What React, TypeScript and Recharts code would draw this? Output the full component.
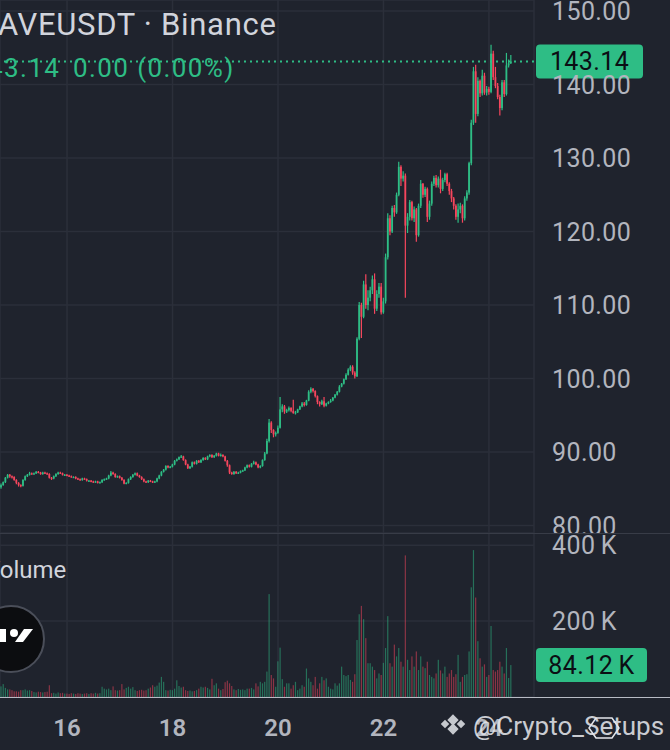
import React from 'react';
import { ComposedChart, Bar, XAxis, YAxis, CartesianGrid, ReferenceLine } from 'recharts';

const UP = '#2ebd85';
const DOWN = '#f6465d';
const BG = '#1f232d';
const GRID = '#2b2f3a';
const AXIS_TEXT = '#b2b5be';
const FONT = 'Roboto, sans-serif';

// hourly candles, first one opens on the 14th at 18:00
const FIRST_DAY = 14;
const FIRST_HOUR = 18;
const EMPTY_SLOTS = 10;

const firstOpen = 85.2;
const closes = [
  85.5, 85.9, 86.5, 86.9, 86.7, 86.6, 86.2, 85.8, 85.5, 85.4,
  86.2, 86.7, 86.9, 87.1, 87.0, 87.1, 87.3, 87.2, 87.0, 87.2,
  87.1, 87.0, 86.5, 86.4, 86.7, 87.0, 87.2, 87.1, 86.9, 86.9,
  86.8, 86.7, 86.6, 86.6, 86.4, 86.3, 86.2, 86.4, 86.3, 86.1,
  86.1, 86.0, 85.9, 86.0, 85.8, 85.9, 86.2, 86.3, 86.4, 86.8,
  87.2, 87.0, 86.6, 86.7, 86.5, 86.2, 85.7, 85.8, 86.3, 86.6,
  86.9, 87.1, 86.8, 86.6, 86.3, 86.0, 85.9, 86.1, 86.0, 85.9,
  86.0, 86.4, 86.8, 87.3, 87.6, 88.1, 87.9, 88.0, 88.3, 88.8,
  89.0, 89.3, 89.4, 88.9, 88.3, 87.8, 88.0, 88.6, 88.4, 88.8,
  88.6, 88.9, 89.2, 89.0, 89.4, 89.6, 89.3, 89.5, 89.8, 89.5,
  89.6, 89.4, 88.8, 88.2, 87.2, 87.0, 87.3, 87.1, 87.2, 87.4,
  87.5, 87.9, 88.2, 88.0, 88.4, 88.6, 88.3, 87.9, 88.1, 88.9,
  89.8, 91.5, 94.0, 93.0, 92.4, 92.6, 93.3, 95.8, 96.2, 95.5,
  95.7, 96.0, 95.6, 95.3, 95.4, 95.8, 96.2, 96.6, 96.4, 97.0,
  98.2, 98.6, 98.3, 97.6, 96.8, 96.5, 96.9, 96.3, 96.6, 96.8,
  97.0, 97.4, 97.8, 98.2, 98.9, 99.3, 99.9, 100.5, 101.2, 101.6,
  100.8, 100.3, 105.4, 110.0, 108.4, 112.8, 110.0, 111.0, 112.0, 113.5,
  109.5, 111.5, 112.5, 109.0, 110.5, 116.5, 121.8, 120.0, 123.2, 122.6,
  125.0, 128.8, 127.2, 127.6, 120.8, 122.0, 124.0, 121.8, 123.0, 119.5,
  123.5, 126.5, 125.0, 125.8, 122.0, 123.8, 126.5, 127.3, 126.3, 127.2,
  125.8, 127.0, 127.8, 126.5, 125.5, 124.5, 123.5, 122.0, 123.0, 123.5,
  121.8, 124.5, 125.3, 129.3, 134.8, 141.8, 136.0, 140.5, 138.8, 141.2,
  138.9, 139.4, 139.0, 144.2, 141.0, 139.8, 138.3, 136.8, 140.3, 138.7,
  142.6, 142.9, 143.14,
];
const highs = [
  85.7, 86.0, 86.6, 87.0, 87.0, 86.8, 86.7, 86.3, 85.9, 85.6,
  86.3, 86.8, 87.0, 87.3, 87.2, 87.2, 87.4, 87.4, 87.3, 87.3,
  87.3, 87.2, 87.1, 86.6, 86.8, 87.1, 87.3, 87.3, 87.2, 87.0,
  87.0, 86.9, 86.8, 86.7, 86.7, 86.5, 86.4, 86.5, 86.5, 86.4,
  86.2, 86.2, 86.1, 86.1, 86.1, 86.0, 86.3, 86.4, 86.5, 86.9,
  87.4, 87.3, 87.1, 86.8, 86.8, 86.6, 86.3, 85.9, 86.4, 86.7,
  87.0, 87.2, 87.2, 86.9, 86.7, 86.4, 86.1, 86.2, 86.2, 86.1,
  86.1, 86.5, 86.9, 87.4, 87.7, 88.2, 88.2, 88.1, 88.4, 88.9,
  89.1, 89.4, 89.6, 89.5, 89.0, 88.4, 88.1, 88.7, 88.7, 88.9,
  88.9, 89.0, 89.3, 89.3, 89.5, 89.7, 89.7, 89.6, 89.9, 89.9,
  89.8, 89.7, 89.5, 88.9, 88.3, 87.3, 87.4, 87.4, 87.3, 87.5,
  87.6, 88.0, 88.3, 88.3, 88.5, 88.8, 88.7, 88.4, 88.2, 89.0,
  90.0, 91.8, 94.5, 94.2, 93.1, 92.8, 93.6, 97.5, 96.5, 96.4,
  95.9, 96.2, 96.1, 97.1, 95.6, 95.9, 96.3, 96.8, 96.8, 97.1,
  98.4, 98.8, 98.7, 98.4, 97.7, 96.9, 97.1, 97.5, 96.7, 96.9,
  97.2, 97.5, 97.9, 98.3, 99.1, 99.4, 100.0, 100.7, 101.4, 101.8,
  101.8, 101.0, 105.6, 110.4, 110.3, 113.3, 114.2, 112.0, 112.5, 114.0,
  114.3, 112.0, 113.0, 113.0, 111.0, 117.0, 122.5, 122.2, 123.5, 123.6,
  125.3, 129.5, 129.0, 128.2, 127.9, 122.5, 124.3, 124.2, 123.4, 123.2,
  123.8, 127.0, 126.6, 126.1, 126.0, 124.2, 126.8, 127.6, 127.7, 127.5,
  128.4, 127.3, 128.0, 128.0, 126.7, 125.8, 124.7, 123.7, 123.8, 123.9,
  123.7, 124.8, 125.6, 129.5, 135.2, 142.4, 142.7, 141.0, 140.7, 142.0,
  141.6, 139.8, 139.7, 145.4, 144.6, 142.4, 140.2, 138.6, 140.6, 140.6,
  144.3, 143.4, 144.0,
];
const lows = [
  85.0, 85.4, 85.8, 86.4, 86.5, 86.4, 86.1, 85.6, 85.3, 85.2,
  85.3, 86.1, 86.6, 86.8, 86.9, 86.9, 87.0, 87.1, 86.9, 86.9,
  87.0, 86.9, 86.4, 86.2, 86.3, 86.6, 86.9, 87.0, 86.8, 86.8,
  86.7, 86.6, 86.5, 86.5, 86.3, 86.2, 86.1, 86.1, 86.2, 86.0,
  86.0, 85.9, 85.8, 85.8, 85.7, 85.7, 85.8, 86.1, 86.2, 86.3,
  86.7, 86.9, 86.5, 86.5, 86.4, 86.1, 85.6, 85.6, 85.7, 86.2,
  86.5, 86.8, 86.7, 86.5, 86.2, 85.9, 85.8, 85.8, 85.9, 85.8,
  85.8, 85.9, 86.3, 86.7, 87.2, 87.5, 87.8, 87.8, 87.9, 88.2,
  88.7, 88.9, 89.2, 88.8, 88.2, 87.7, 87.7, 87.9, 88.3, 88.3,
  88.5, 88.5, 88.8, 88.9, 88.9, 89.3, 89.2, 89.2, 89.4, 89.4,
  89.4, 89.3, 88.7, 88.0, 87.0, 86.9, 86.9, 87.0, 87.0, 87.1,
  87.3, 87.4, 87.8, 87.9, 87.9, 88.3, 88.2, 87.8, 87.8, 88.0,
  88.8, 89.7, 91.3, 92.6, 92.0, 92.1, 92.5, 93.2, 95.4, 95.2,
  95.3, 95.5, 95.4, 95.2, 95.1, 95.3, 95.7, 96.1, 96.2, 96.3,
  96.9, 98.0, 98.1, 97.4, 96.5, 96.2, 96.4, 96.1, 96.2, 96.5,
  96.7, 96.9, 97.3, 97.7, 98.1, 98.8, 99.2, 99.8, 100.4, 101.0,
  100.5, 100.0, 100.2, 105.2, 105.5, 108.2, 109.5, 109.3, 110.5, 111.5,
  108.8, 109.2, 111.0, 108.7, 108.8, 110.2, 116.2, 119.5, 119.8, 122.0,
  122.4, 124.8, 126.2, 126.8, 111.0, 119.8, 121.5, 121.5, 121.3, 118.6,
  119.3, 123.2, 124.6, 124.7, 121.3, 121.6, 123.5, 126.2, 126.0, 126.0,
  125.2, 125.5, 126.7, 126.2, 125.0, 124.0, 123.0, 121.6, 121.2, 122.5,
  121.2, 121.5, 124.2, 125.0, 129.0, 134.5, 134.8, 135.7, 138.3, 138.5,
  138.6, 138.5, 138.6, 138.8, 140.6, 139.5, 138.0, 135.8, 136.5, 138.3,
  138.5, 142.3, 142.8,
];
// volume, thousands of AAVE
const volumes = [
  28, 34, 24, 20, 20, 18, 15, 15, 14, 18,
  18, 20, 17, 18, 16, 13, 12, 14, 13, 12,
  13, 14, 31, 10, 11, 9, 12, 10, 11, 9,
  9, 8, 10, 9, 8, 10, 9, 8, 9, 10,
  8, 10, 9, 11, 9, 10, 27, 22, 20, 22,
  18, 28, 18, 17, 18, 34, 20, 24, 27, 22,
  26, 18, 16, 18, 19, 17, 18, 22, 25, 31,
  27, 30, 38, 53, 40, 18, 17, 19, 18, 22,
  44, 29, 25, 27, 18, 16, 17, 15, 16, 18,
  22, 27, 25, 27, 24, 20, 48, 31, 36, 22,
  18, 21, 39, 43, 36, 29, 20, 18, 21, 19,
  20, 18, 22, 22, 24, 20, 36, 28, 40, 36,
  40, 67, 271, 58, 49, 27, 94, 130, 47, 27,
  36, 36, 22, 31, 40, 18, 22, 31, 27, 75,
  49, 40, 31, 53, 22, 36, 53, 44, 49, 27,
  22, 20, 36, 30, 36, 80, 58, 55, 58, 45,
  40, 60, 150, 218, 240, 205, 155, 89, 89, 80,
  71, 49, 62, 58, 90, 129, 213, 89, 80, 138,
  107, 129, 93, 80, 373, 98, 71, 107, 80, 120,
  71, 107, 80, 76, 93, 58, 53, 49, 62, 98,
  70, 62, 80, 53, 62, 71, 53, 60, 111, 40,
  53, 58, 60, 120, 289, 387, 262, 147, 102, 80,
  86, 53, 58, 187, 71, 67, 71, 93, 80, 62,
  129, 50, 84.12,
];

const priceTicks = [80, 90, 100, 110, 120, 130, 140, 150];
const volumeTicks = [200, 400];
const dayTicks = [16, 18, 20, 22, 24];
const lastPrice = 143.14;
const lastVolume = 84.12;

const rows = Array.from({ length: closes.length + EMPTY_SLOTS }, (_, i) => {
  const hour = FIRST_HOUR + i;
  const day = FIRST_DAY + Math.floor(hour / 24);
  const slot = hour % 24 === 0 ? `d${day}` : `s${i}`;
  if (i >= closes.length) return { slot };
  const open = i === 0 ? firstOpen : closes[i - 1];
  const close = closes[i];
  const high = Math.max(highs[i], open, close);
  const low = Math.min(lows[i], open, close);
  return { slot, open, close, high, low, range: [low, high], vol: volumes[i], up: close >= open };
});
const xTicks = dayTicks.map((d) => `d${d}`);

function Candle(props: any) {
  const { x, y, width, height, payload } = props;
  if (!payload || payload.high == null || !isFinite(y)) return null;
  const { open, close, high, low, up } = payload;
  const top = Math.min(y, y + height);
  const h = Math.abs(height);
  const span = high - low || 1;
  const py = (v: number) => top + ((high - v) / span) * h;
  const color = up ? UP : DOWN;
  const cx = x + width / 2;
  const bw = width * 0.88;
  const b1 = py(Math.max(open, close));
  const b2 = py(Math.min(open, close));
  return (
    <g>
      <line x1={cx} x2={cx} y1={top} y2={top + h} stroke={color} strokeWidth={1.2} />
      <rect x={cx - bw / 2} y={b1} width={bw} height={Math.max(1.2, b2 - b1)} fill={color} />
    </g>
  );
}

function VolBar(props: any) {
  const { x, y, width, height, payload } = props;
  if (!payload || payload.vol == null || !isFinite(y)) return null;
  const bw = width * 0.6;
  return (
    <rect x={x + (width - bw) / 2} y={y} width={bw} height={height}
      fill={payload.up ? UP : DOWN} fillOpacity={0.5} />
  );
}

function PriceTick(props: any) {
  const { x, y, payload } = props;
  return (
    <text x={x + 18} y={y} dy="0.36em" fill={AXIS_TEXT} fontSize={25} fontFamily={FONT} letterSpacing={0.4}>
      {payload.value.toFixed(2)}
    </text>
  );
}

function VolTick(props: any) {
  const { x, y, payload } = props;
  return (
    <text x={x + 18} y={y} dy="0.36em" fill={AXIS_TEXT} fontSize={25} fontFamily={FONT} letterSpacing={0.4}>
      {`${payload.value}\u2009K`}
    </text>
  );
}

function DayTick(props: any) {
  const { x, y, payload } = props;
  return (
    <text x={x} y={y + 30} dy="0.36em" textAnchor="middle" fill={AXIS_TEXT} fontSize={24}
      fontWeight={600} fontFamily={FONT}>
      {String(payload.value).slice(1)}
    </text>
  );
}

function LastTag(props: any) {
  const { viewBox, text, w } = props;
  if (!viewBox) return null;
  const x = viewBox.x + viewBox.width + 2;
  const y = viewBox.y;
  return (
    <g>
      <rect x={x} y={y - 17} width={w} height={34} rx={4} fill={UP} />
      <text x={x + w / 2} y={y} dy="0.36em" textAnchor="middle" fill="#0b0e14" fontSize={25}
        fontFamily={FONT} letterSpacing={0.4}>{text}</text>
    </g>
  );
}

export default function App() {
  return (
    <div style={{ position: 'absolute', left: 0, top: 0, width: 670, height: 750, background: BG, overflow: 'hidden', fontFamily: FONT }}>
      <div style={{ position: 'absolute', left: 0, top: 0 }}>
        <ComposedChart width={670} height={533} data={rows} margin={{ top: 0, right: 0, bottom: 0, left: 0 }}
          barCategoryGap={0} barGap={0}>
          <CartesianGrid stroke={GRID} strokeWidth={1.5} />
          <XAxis dataKey="slot" type="category" ticks={xTicks} interval={0} hide />
          <YAxis orientation="right" width={136} domain={[78.98, 151.5]} ticks={priceTicks} interval={0}
            allowDataOverflow axisLine={false} tickLine={false} tickSize={0} tickMargin={0} tick={<PriceTick />} />
          <ReferenceLine y={lastPrice} stroke={UP} strokeWidth={2} strokeDasharray="2 4"
            label={<LastTag text={lastPrice.toFixed(2)} w={107} />} />
          <Bar dataKey="range" shape={<Candle />} isAnimationActive={false} />
        </ComposedChart>
      </div>
      <div style={{ position: 'absolute', left: 0, top: 533 }}>
        <ComposedChart width={670} height={217} data={rows} margin={{ top: 0, right: 0, bottom: 0, left: 0 }}
          barCategoryGap={0} barGap={0}>
          <CartesianGrid stroke={GRID} strokeWidth={1.5} />
          <XAxis dataKey="slot" type="category" ticks={xTicks} interval={0} height={53}
            axisLine={false} tickLine={false} tickSize={0} tickMargin={0} tick={<DayTick />} />
          <YAxis orientation="right" width={136} domain={[0, 432]} ticks={volumeTicks} interval={0} allowDataOverflow
            axisLine={false} tickLine={false} tickSize={0} tickMargin={0} tick={<VolTick />} />
          <ReferenceLine y={lastVolume} stroke="none"
            label={<LastTag text={`${lastVolume.toFixed(2)}\u2009K`} w={111} />} />
          <Bar dataKey="vol" shape={<VolBar />} isAnimationActive={false} />
        </ComposedChart>
      </div>
      <div style={{ position: 'absolute', left: 0, top: 533, width: 670, height: 1, background: '#383c47' }} />
      <div style={{ position: 'absolute', left: 0, top: 697, width: 670, height: 1, background: '#b8bbc4' }} />
      <svg width={670} height={750} style={{ position: 'absolute', left: 0, top: 0, pointerEvents: 'none' }}>
        <text x={-23} y={35} fill="#d1d4dc" fontSize={31} fontFamily={FONT} letterSpacing={0.7}>AAVEUSDT · Binance</text>
        <text y={77} fill={UP} fontSize={26} fontFamily={FONT} letterSpacing={1.4}>
          <tspan x={-28}>143.14</tspan>
          <tspan x={73}>0.00 (0.00%)</tspan>
        </text>
        <text x={-15} y={578} fill="#d1d4dc" fontSize={24} fontFamily={FONT}>Volume</text>
        <circle cx={11} cy={639} r={33} fill="#0c0d10" stroke="#4a4e59" strokeWidth={2} />
        <rect x={-8} y={629} width={14} height={13} fill="#fff" />
        <circle cx={14} cy={633} r={4} fill="#fff" />
        <polygon points="15,642 23,642 33,629 24,629" fill="#fff" />
        <g fill="#d9dbe0" opacity={0.9}>
          <rect x={449} y={716} width={8} height={8} transform="rotate(45 453 720)" />
          <rect x={449} y={725} width={8} height={8} transform="rotate(45 453 729)" />
          <rect x={442} y={721} width={6} height={6} transform="rotate(45 445 724)" />
          <rect x={458} y={721} width={6} height={6} transform="rotate(45 461 724)" />
        </g>
        <text x={473} y={735} fill="#e3e5ea" fillOpacity={0.88} fontSize={26} fontFamily={FONT}>@Crypto_Setups</text>
        <polygon points="596,718 612,718 619,728 612,738 596,738 589,728" fill="none" stroke="#e3e5ea" strokeWidth={1.5} />
      </svg>
    </div>
  );
}
